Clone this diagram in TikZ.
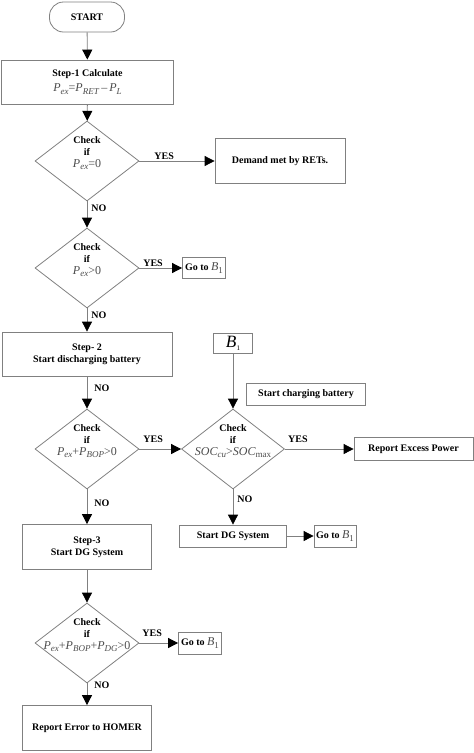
\documentclass[tikz,border=0pt]{standalone}
\usepackage{fontspec}
\setmainfont{Liberation Serif}
\usetikzlibrary{arrows.meta, shapes.geometric}

\tikzset{
  box/.style={draw=gray, line width=0.8pt, fill=white, font=\bfseries, align=center, inner sep=1pt},
  decision/.style={draw=gray, line width=0.8pt, diamond, minimum width=104pt, minimum height=80pt, inner sep=0pt},
  inside/.style={font=\bfseries, align=center, yshift=8pt, inner sep=0pt},
  flow/.style={draw=gray, line width=0.8pt, -{Triangle[length=10pt,width=10pt,color=black]}},
  yn/.style={font=\bfseries, inner sep=1pt},
}
\newcommand{\frm}[1]{{\mdseries\large\color{black!70}#1}}
\newcommand{\sub}[1]{\raisebox{-0.45ex}{\small #1}}
\newcommand{\Pv}[1]{\textit{P}\sub{\textit{#1}}}
\newcommand{\gotob}{Go to \frm{\textit{B}\sub{1}}}

\begin{document}
\begin{tikzpicture}[x=1pt, y=-1pt]

\useasboundingbox (0,0) rectangle (474,753);

% main column
\node[box, rounded corners=14pt, minimum width=75pt, minimum height=30pt] (start) at (87,17) {START};
\node[box, minimum width=172pt, minimum height=44pt] (step1) at (87.5,82) {Step-1 Calculate\\[3pt] \frm{\Pv{ex}=\Pv{RET}\,--\,\Pv{L}}};

\node[decision, label={[inside]center:{Check\\if\\ \frm{\Pv{ex}=0}}}] (chk1) at (87,161) {};
\node[box, minimum width=130pt, minimum height=45pt] (met) at (280,161) {Demand met by RETs.};

\node[decision, label={[inside]center:{Check\\if\\ \frm{\Pv{ex}>0}}}] (chk2) at (87,268) {};
\node[box, minimum width=43pt, minimum height=21pt] (gob1) at (204,268) {\gotob};

\node[box, minimum width=170pt, minimum height=44pt] (step2) at (87,354) {Step- 2\\Start discharging battery};
\node[decision, label={[inside]center:{Check\\if\\ \frm{\Pv{ex}+\Pv{BOP}>0}}}] (chk3) at (87,449) {};

% battery branch
\node[box, minimum width=39pt, minimum height=20pt, inner sep=0pt, font=\LARGE] (b1) at (233,343) {\textit{B}\raisebox{-0.4ex}{\scriptsize 1}};
\node[box, minimum width=119pt, minimum height=22pt] (charge) at (306,394) {Start charging battery};
\node[decision, minimum width=103pt, label={[inside]center:{Check\\if\\ \frm{\textit{SOC}\sub{\textit{cu}}>\textit{SOC}\sub{max}}}}] (chk4) at (233,449) {};
\node[box, minimum width=119pt, minimum height=23pt] (excess) at (413.5,449) {Report Excess Power};
\node[box, minimum width=107pt, minimum height=22pt] (dg) at (233,536) {Start DG System};
\node[box, minimum width=42pt, minimum height=22pt] (gob2) at (335,536) {\gotob};

% lower column
\node[box, minimum width=129pt, minimum height=45pt] (step3) at (87,547) {Step-3\\Start DG System};
\node[decision, label={[inside]center:{Check\\if\\ \frm{\Pv{ex}+\Pv{BOP}+\Pv{DG}>0}}}] (chk5) at (87,643) {};
\node[box, minimum width=43pt, minimum height=22pt] (gob3) at (200,643) {\gotob};
\node[box, minimum width=129pt, minimum height=45pt] (err) at (87,728) {Report Error to HOMER};

% connectors
\draw[flow] (start) -- (step1);
\draw[flow] (step1) -- (chk1);
\draw[flow] (chk1) -- node[yn, above, pos=0.33] {YES} (met);
\draw[flow] (chk1) -- node[yn, right, pos=0.25, xshift=3pt] {NO} (chk2);
\draw[flow] (chk2) -- node[yn, above, pos=0.32] {YES} (gob1);
\draw[flow] (chk2) -- node[yn, right, pos=0.3, xshift=3pt] {NO} (step2);
\draw[flow] (step2) -- node[yn, right, pos=0.36, xshift=6pt] {NO} (chk3);
\draw[flow] (chk3) -- node[yn, above=5pt, pos=0.33] {YES} (chk4);
\draw[flow] (chk3) -- node[yn, right, pos=0.4, xshift=6pt] {NO} (step3);
\draw[flow] (b1) -- (chk4);
\draw[flow] (chk4) -- node[yn, above=5pt, pos=0.19] {YES} (excess);
\draw[flow] (chk4) -- node[yn, right, pos=0.27, xshift=3pt] {NO} (dg);
\draw[flow] (dg) -- (gob2);
\draw[flow] (step3) -- (chk5);
\draw[flow] (chk5) -- node[yn, above=5pt, pos=0.33] {YES} (gob3);
\draw[flow] (chk5) -- node[yn, right, pos=0.1, xshift=6pt] {NO} (err);

\end{tikzpicture}
\end{document}
